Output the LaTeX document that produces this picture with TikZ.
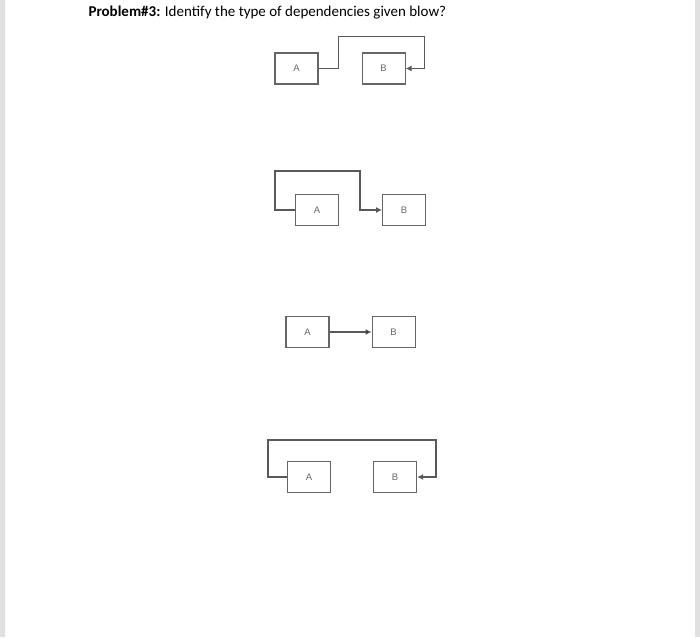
\documentclass[tikz,border=0pt]{standalone}
\usepackage{fontspec}
\setmainfont{Carlito}
\setsansfont{Liberation Sans}
\usepackage{tikz}
\usetikzlibrary{positioning,arrows.meta}
\tikzstyle{task}=   [draw=black!60,
line width=1.1pt,
rectangle,
minimum width=43pt,
minimum height=31pt,
inner sep=0,
font=\sffamily\fontsize{9.5}{9.5}\selectfont,
text=black!60,
]
\tikzstyle{link}=   [draw=black!65,
line width=1.1pt,
-{Latex[length=6pt,width=6pt]},
]

\begin{document}
\begin{tikzpicture}[x=1pt,y=-1pt]
        \useasboundingbox (0,0) rectangle (700,637);
        \fill[black!12] (0,0) rectangle (5,637) (695,0) rectangle (700,637);
        \node[anchor=west,font=\fontsize{15}{15}\selectfont] (title) at (85,13) {\textbf{Problem\#3:} Identify the type of dependencies given blow?};

        \node[task] (A1) at (296.5,68.5) {A};
        \node[task, right=43pt of A1] (B1) {B};
        \node[task] (A2) at (317,210) {A};
        \node[task, right=43pt of A2] (B2) {B};
        \node[task] (A3) at (307.5,332) {A};
        \node[task, right=42pt of A3] (B3) {B};
        \node[task] (A4) at (309,477) {A};
        \node[task, right=42pt of A4] (B4) {B};

        \draw[link] (A1.east) -- ++(20pt,0) -- ++(0,32pt) -- ++(86pt,0) |- (B1.east);
        \draw[link] (A2.west) -- ++(-20pt,0) -- ++(0,39pt) -- ++(85pt,0) |- (B2.west);
        \draw[link] (A3) edge (B3);
        \draw[link] (A4.west) -- ++(-19pt,0) -- ++(0,37pt) -- ++(168pt,0) |- (B4.east);
    \end{tikzpicture}
\end{document}
